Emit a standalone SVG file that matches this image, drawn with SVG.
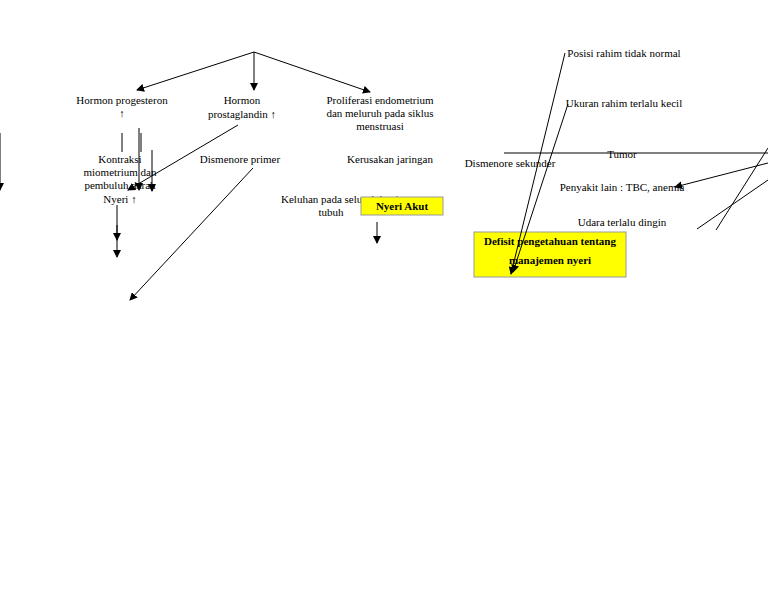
<svg xmlns="http://www.w3.org/2000/svg" width="768" height="594" viewBox="0 0 768 594">
<style>
text{font-family:"Liberation Serif",serif;font-size:11px;fill:#000;text-anchor:middle}
.b{font-weight:bold}
line{stroke:#000;stroke-width:1}
.a{marker-end:url(#ah)}
.box{fill:#ffff00;stroke:#999;stroke-width:1}
</style>
<defs><marker id="ah" markerWidth="8" markerHeight="8" refX="7" refY="4" orient="auto" markerUnits="userSpaceOnUse"><path d="M0,0L8,4L0,8z" fill="#000"/></marker></defs>
<rect width="768" height="594" fill="#fff"/>
<g id="n1"><text x="122" y="104">Hormon progesteron</text><text x="122" y="117">↑</text></g>
<g id="n2"><text x="242" y="104">Hormon</text><text x="242" y="118">prostaglandin  ↑</text></g>
<g id="n3"><text x="380" y="104">Proliferasi endometrium</text><text x="380" y="117">dan meluruh pada siklus</text><text x="380" y="130">menstruasi</text></g>
<g id="n4"><text x="120" y="163">Kontraksi</text><text x="120" y="176">miometrium dan</text><text x="120" y="189">pembuluh darah</text><text x="120" y="203">Nyeri ↑</text></g>
<g id="n5"><text x="240" y="163">Dismenore primer</text></g>
<g id="n6"><text x="390" y="163">Kerusakan jaringan</text></g>
<g id="n7"><text x="345" y="203">Keluhan pada seluruh bagian</text><text x="331" y="216">tubuh</text></g>
<g id="n8"><rect class="box" x="361" y="197" width="82" height="18"/><text class="b" x="402" y="210">Nyeri Akut</text></g>
<g id="n9"><text x="624" y="57">Posisi rahim tidak normal</text></g>
<g id="n10"><text x="624" y="107">Ukuran rahim terlalu kecil</text></g>
<g id="n11"><text x="622" y="158">Tumor</text></g>
<g id="n12"><text x="510" y="167">Dismenore sekunder</text></g>
<g id="n13"><text x="622" y="191">Penyakit lain : TBC, anemia</text></g>
<g id="n14"><text x="622" y="226">Udara terlalu dingin</text></g>
<g id="n15"><rect class="box" x="474" y="232" width="152" height="45"/><text class="b" x="550" y="245">Defisit pengetahuan tentang</text><text class="b" x="550" y="264">manajemen nyeri</text></g>
<g id="connectors">
<line class="a" x1="254" y1="52" x2="137" y2="90"/>
<line class="a" x1="254" y1="52" x2="254" y2="90"/>
<line class="a" x1="254" y1="52" x2="370" y2="92"/>
<line x1="122" y1="133" x2="122" y2="152"/>
<line class="a" x1="139" y1="128" x2="139" y2="190"/>
<line x1="141" y1="133" x2="141" y2="152"/>
<line class="a" x1="152" y1="150" x2="152" y2="191"/>
<line class="a" x1="238" y1="125" x2="128" y2="190"/>
<line class="a" x1="117" y1="205" x2="117" y2="240"/>
<line class="a" x1="117" y1="225" x2="117" y2="257"/>
<line class="a" x1="253" y1="168" x2="130" y2="300"/>
<line class="a" x1="0" y1="133" x2="0" y2="190"/>
<line class="a" x1="377" y1="222" x2="377" y2="243"/>
<line x1="504" y1="153" x2="768" y2="153"/>
<line class="a" x1="565" y1="53" x2="511" y2="274"/>
<line class="a" x1="568" y1="104" x2="513" y2="272"/>
<line class="a" x1="768" y1="163" x2="675" y2="187"/>
<line x1="768" y1="148" x2="716" y2="230"/>
<line x1="768" y1="180" x2="697" y2="229"/>
</g>
</svg>
